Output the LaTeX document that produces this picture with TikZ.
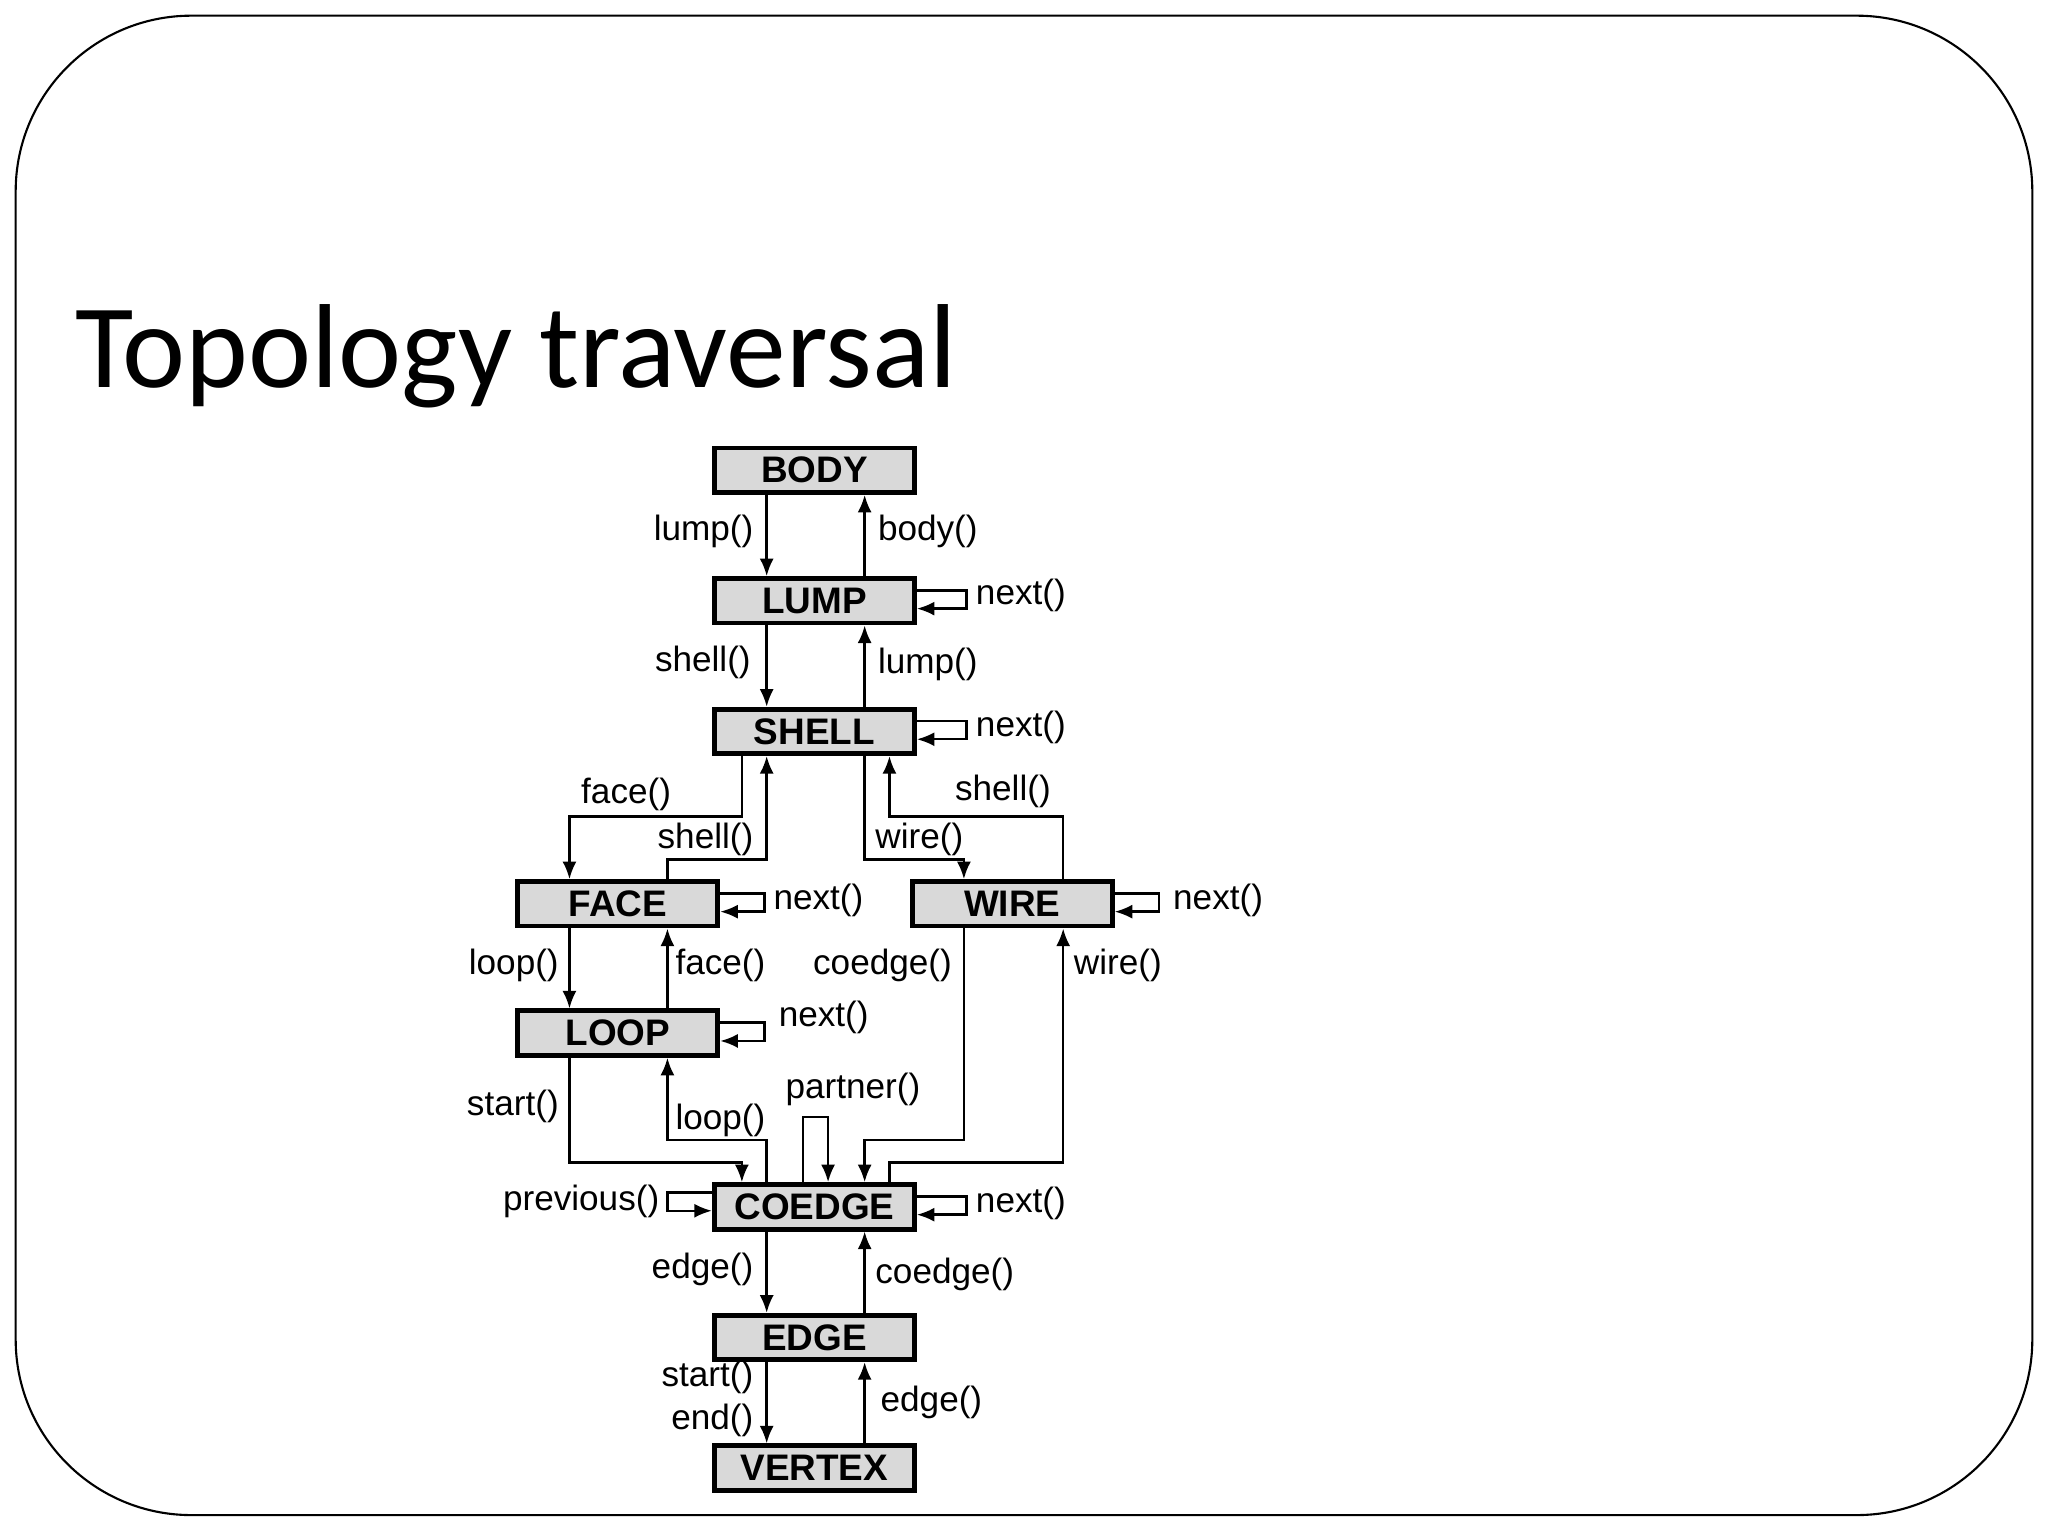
\documentclass[tikz,border=0pt]{standalone}
\usepackage{fontspec}
\setmainfont{Liberation Sans}
\newfontfamily\titlefont{Carlito}
\usetikzlibrary{arrows.meta}
\begin{document}
\begin{tikzpicture}[x=0.01306cm,y=-0.01306cm,
  box/.style={draw,line width=1.4pt,fill=gray!30,minimum width=2.0cm,minimum height=0.444cm,inner sep=0pt,font=\bfseries\fontsize{10.5}{12}\selectfont},
  lbl/.style={font=\fontsize{10}{12}\selectfont,inner sep=1pt},
  ar/.style={line width=0.7pt,-{Latex[length=5pt,width=4pt]}}]
\useasboundingbox (0,0) rectangle (1568,1176);
\draw[line width=0.6pt,rounded corners=50] (12,12) rectangle (1556,1160);
\node[anchor=base west,inner sep=0pt,font=\titlefont\fontsize{34}{40}\selectfont] (title) at (57,297) {Topology traversal};
\node[box] (body) at (623.5,360) {BODY};
\node[box] (lump) at (623.5,460) {LUMP};
\node[box] (shell) at (623.5,560) {SHELL};
\node[box] (face) at (473,692) {FACE};
\node[box] (wire) at (775,692) {WIRE};
\node[box] (loop) at (473,791) {LOOP};
\node[box] (coedge) at (623.5,924) {COEDGE};
\node[box] (edge) at (623.5,1024) {EDGE};
\node[box] (vertex) at (623.5,1124) {VERTEX};
% body-lump
\draw[ar] (587,0 |- body.south) -- (587,0 |- lump.north);
\draw[ar] (662,0 |- lump.north) -- (662,0 |- body.south);
\node[lbl,anchor=east] (l1) at (580,407) {lump()};
\node[lbl,anchor=west] (l2) at (669,407) {body()};
% lump-shell
\draw[ar] (587,0 |- lump.south) -- (587,0 |- shell.north);
\draw[ar] (662,0 |- shell.north) -- (662,0 |- lump.south);
\node[lbl,anchor=east] (l3) at (578,507) {shell()};
\node[lbl,anchor=west] (l4) at (669,509) {lump()};
% next loops
\foreach \n/\yy in {lump/460,shell/560,coedge/924}{
  \draw[ar] (\n.east |- 0,\yy-8) -- ++(38,0) -- ++(0,14) -- (\n.east |- 0,\yy+6);
}
\node[lbl,anchor=west] (n1) at (744,456) {next()};
\node[lbl,anchor=west] (n2) at (744,557) {next()};
\node[lbl,anchor=west] (n5) at (744,921) {next()};
\foreach \n/\yy in {face/692,wire/692,loop/791}{
  \draw[ar] (\n.east |- 0,\yy-8) -- ++(34,0) -- ++(0,14) -- (\n.east |- 0,\yy+6);
}
\node[lbl,anchor=west] (n3) at (589,689) {next()};
\node[lbl,anchor=west] (n4) at (895,689) {next()};
\node[lbl,anchor=west] (n6) at (593,779) {next()};
% shell-face/wire
\draw[ar] (568,0 |- shell.south) -- (568,625) -- (436,625) -- (436,0 |- face.north);
\draw[ar] (511,0 |- face.north) -- (511,658) -- (587,658) -- (587,0 |- shell.south);
\draw[ar] (662,0 |- shell.south) -- (662,658) -- (738,658) -- (738,0 |- wire.north);
\draw[ar] (814,0 |- wire.north) -- (814,625) -- (681,625) -- (681,0 |- shell.south);
\node[lbl,anchor=east] (l5) at (517,608) {face()};
\node[lbl,anchor=east] (l6) at (580,643) {shell()};
\node[lbl,anchor=west] (l7) at (667,643) {wire()};
\node[lbl,anchor=west] (l8) at (728,606) {shell()};
% face-loop
\draw[ar] (436,0 |- face.south) -- (436,0 |- loop.north);
\draw[ar] (511,0 |- loop.north) -- (511,0 |- face.south);
\node[lbl,anchor=east] (l9) at (431,739) {loop()};
\node[lbl,anchor=west] (l10) at (514,739) {face()};
% wire labels
\node[lbl,anchor=east] (l11) at (732,739) {coedge()};
\node[lbl,anchor=west] (l12) at (819,739) {wire()};
% loop-coedge
\draw[ar] (436,0 |- loop.south) -- (436,890) -- (568,890) -- (568,0 |- coedge.north);
\draw[ar] (587,0 |- coedge.north) -- (587,873) -- (511,873) -- (511,0 |- loop.south);
\node[lbl,anchor=east] (l13) at (431,847) {start()};
\node[lbl,anchor=west] (l14) at (514,858) {loop()};
% partner
\draw[ar] (615,0 |- coedge.north) -- (615,855) -- (634,855) -- (634,0 |- coedge.north);
\node[lbl] (l15) at (653,834) {partner()};
% wire-coedge
\draw[ar] (738,0 |- wire.south) -- (738,873) -- (662,873) -- (662,0 |- coedge.north);
\draw[ar] (681,0 |- coedge.north) -- (681,890) -- (814,890) -- (814,0 |- wire.south);
% previous
\draw[ar] (coedge.west |- 0,913) -- (511,913) -- (511,927) -- (coedge.west |- 0,927);
\node[lbl,anchor=east] (l16) at (508,920) {previous()};
% coedge-edge
\draw[ar] (587,0 |- coedge.south) -- (587,0 |- edge.north);
\draw[ar] (662,0 |- edge.north) -- (662,0 |- coedge.south);
\node[lbl,anchor=east] (l17) at (580,972) {edge()};
\node[lbl,anchor=west] (l18) at (667,976) {coedge()};
% edge-vertex
\draw[ar] (587,0 |- edge.south) -- (587,0 |- vertex.north);
\draw[ar] (662,0 |- vertex.north) -- (662,0 |- edge.south);
\node[lbl,anchor=east,align=right] (l19) at (580,1071) {start()\\end()};
\node[lbl,anchor=west] (l20) at (671,1074) {edge()};
\end{tikzpicture}
\end{document}
